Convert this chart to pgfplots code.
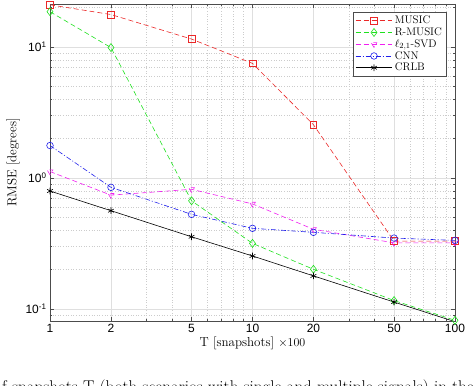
\documentclass[border=0pt]{standalone}
\usepackage{fontspec}
\usepackage{pgfplots}
\pgfplotsset{compat=1.18}
\usetikzlibrary{calc}
\newfontfamily\ticksf{Liberation Sans}
\definecolor{mred}{RGB}{235,40,40}
\definecolor{mgreen}{RGB}{30,225,30}
\definecolor{mmag}{RGB}{240,30,240}
\definecolor{mblue}{RGB}{30,30,235}
\begin{document}
\begin{tikzpicture}
\begin{axis}[
  name=ax,
  scale only axis, width=405pt, height=317pt,
  xmode=log, ymode=log,
  xmin=1, xmax=100, ymin=0.081, ymax=21.3,
  xtick={1,2,5,10,20,50,100}, xticklabels={1,2,5,10,20,50,100},
  minor xtick={3,4,6,7,8,9,30,40,60,70,80,90},
  ytick={0.1,1,10},
  yticklabels={10\textsuperscript{-1},10\textsuperscript{0},10\textsuperscript{1}},
  minor ytick={0.09,0.2,0.3,0.4,0.5,0.6,0.7,0.8,0.9,2,3,4,5,6,7,8,9,20},
  tick label style={font=\ticksf\fontsize{12}{13}\selectfont},
  grid=both,
  major grid style={gray!25, line width=0.4pt},
  minor grid style={gray!40, dash pattern=on 0.6pt off 2pt, line width=0.4pt},
  tick align=inside, xtick pos=both, ytick pos=both,
  major tick length=4pt, minor tick length=2pt,
  axis line style={black!70, line width=0.5pt},
  every tick/.style={black!70},
  xlabel={T [snapshots] $\times100$},
  ylabel={RMSE [degrees]},
  label style={font=\fontsize{13}{15}\selectfont},
  xlabel style={yshift=3pt},
  ylabel style={yshift=-1pt},
  legend style={at={(axis description cs:0.978,0.975)}, anchor=north east,
    font=\fontsize{11}{13}\selectfont, draw=black!70, fill=white,
    row sep=-1.5pt, inner sep=2pt},
  legend cell align=left,
  legend image code/.code={\draw[mark repeat=2,mark phase=2] plot coordinates {(0cm,0cm) (0.65cm,0cm) (1.3cm,0cm)};},
  every axis plot/.append style={line width=0.6pt, mark size=3.3pt, mark options={solid, fill=none}},
]
\addplot[color=mred, dash pattern=on 5pt off 3pt, mark=square] coordinates {
(1,21.0) (2,17.7) (5,11.5) (10,7.5) (20,2.55) (50,0.33) (100,0.33)};
\addlegendentry{MUSIC}
\addplot[color=mgreen, dash pattern=on 5pt off 3pt, mark=diamond, mark size=4pt] coordinates {
(1,18.6) (2,9.9) (5,0.67) (10,0.317) (20,0.201) (50,0.116) (100,0.082)};
\addlegendentry{R-MUSIC}
\addplot[color=mmag, dash pattern=on 5pt off 3pt, mark=triangle, mark options={rotate=180}] coordinates {
(1,1.12) (2,0.74) (5,0.82) (10,0.634) (20,0.406) (50,0.32) (100,0.32)};
\addlegendentry{$\ell_{2,1}$-SVD}
\addplot[color=mblue, dash pattern=on 5pt off 2pt on 1pt off 2pt, mark=o] coordinates {
(1,1.77) (2,0.849) (5,0.528) (10,0.413) (20,0.385) (50,0.348) (100,0.334)};
\addlegendentry{CNN}
\addplot[color=black, solid, mark=asterisk] coordinates {
(1,0.796) (2,0.563) (5,0.356) (10,0.254) (20,0.179) (50,0.113) (100,0.08)};
\addlegendentry{CRLB}
\end{axis}
\pgfresetboundingbox
\path[use as bounding box] ($(ax.south west)+(-50pt,-65pt)$) rectangle ($(ax.north east)+(19pt,4pt)$);
\begin{scope}
\clip ($(ax.south west)+(-50pt,-65pt)$) rectangle ($(ax.north east)+(19pt,4pt)$);
\node[anchor=base west, inner sep=0pt, font=\fontsize{17}{20}\selectfont] at ($(ax.south west)+(-48pt,-71.5pt)$)
  {f snapshots T (both scenarios with single and multiple signals) in the};
\end{scope}
\end{tikzpicture}
\end{document}
